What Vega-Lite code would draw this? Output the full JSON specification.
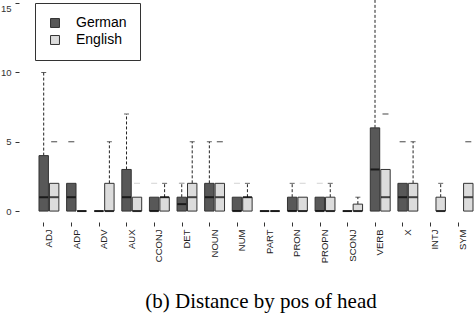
{
  "$schema": "https://vega.github.io/schema/vega-lite/v6.json",
  "width": 436,
  "height": 218,
  "autosize": "none",
  "padding": {"left": 38, "top": 0, "right": 0, "bottom": 95},
  "background": "white",
  "config": {
    "view": {"stroke": null},
    "font": "Liberation Sans",
    "axisY": {"domain": false, "grid": false, "tickSize": 4, "offset": 19, "labelPadding": 4, "labelFontSize": 9.5, "labelColor": "#333", "tickColor": "#333", "labelFont": "Liberation Sans"},
    "axisX": {"domain": false, "grid": false, "tickSize": 4, "offset": 4, "labelPadding": 3, "labelFontSize": 9.5, "labelColor": "#222", "tickColor": "#333", "labelAngle": -90, "labelFont": "Liberation Sans", "bandPosition": 0.25}
  },
  "title": {"text": "(b) Distance by pos of head", "orient": "bottom", "anchor": "middle", "font": "Liberation Serif", "fontSize": 21, "fontWeight": "normal", "color": "black", "offset": 28, "dx": 5},
  "datasets": {
    "boxes": [
      {"pos": "ADJ", "lang": "German", "q1": 0, "med": 1, "q3": 4, "hi": 10},
      {"pos": "ADJ", "lang": "English", "q1": 0, "med": 1, "q3": 2, "hi": 2},
      {"pos": "ADP", "lang": "German", "q1": 0, "med": 1, "q3": 2, "hi": 2},
      {"pos": "ADP", "lang": "English", "q1": 0, "med": 0, "q3": 0, "hi": 0},
      {"pos": "ADV", "lang": "German", "q1": 0, "med": 0, "q3": 0, "hi": 0},
      {"pos": "ADV", "lang": "English", "q1": 0, "med": 0, "q3": 2, "hi": 5},
      {"pos": "AUX", "lang": "German", "q1": 0, "med": 1, "q3": 3, "hi": 7},
      {"pos": "AUX", "lang": "English", "q1": 0, "med": 0, "q3": 1, "hi": 1},
      {"pos": "CCONJ", "lang": "German", "q1": 0, "med": 0, "q3": 1, "hi": 1},
      {"pos": "CCONJ", "lang": "English", "q1": 0, "med": 1, "q3": 1, "hi": 2},
      {"pos": "DET", "lang": "German", "q1": 0, "med": 0.5, "q3": 1, "hi": 2},
      {"pos": "DET", "lang": "English", "q1": 0, "med": 1, "q3": 2, "hi": 5},
      {"pos": "NOUN", "lang": "German", "q1": 0, "med": 1, "q3": 2, "hi": 5},
      {"pos": "NOUN", "lang": "English", "q1": 0, "med": 1, "q3": 2, "hi": 2},
      {"pos": "NUM", "lang": "German", "q1": 0, "med": 0, "q3": 1, "hi": 1},
      {"pos": "NUM", "lang": "English", "q1": 0, "med": 1, "q3": 1, "hi": 2},
      {"pos": "PART", "lang": "German", "q1": 0, "med": 0, "q3": 0, "hi": 0},
      {"pos": "PART", "lang": "English", "q1": 0, "med": 0, "q3": 0, "hi": 0},
      {"pos": "PRON", "lang": "German", "q1": 0, "med": 0, "q3": 1, "hi": 2},
      {"pos": "PRON", "lang": "English", "q1": 0, "med": 0, "q3": 1, "hi": 1},
      {"pos": "PROPN", "lang": "German", "q1": 0, "med": 0, "q3": 1, "hi": 1},
      {"pos": "PROPN", "lang": "English", "q1": 0, "med": 0, "q3": 1, "hi": 2},
      {"pos": "SCONJ", "lang": "German", "q1": 0, "med": 0, "q3": 0, "hi": 0},
      {"pos": "SCONJ", "lang": "English", "q1": 0, "med": 0, "q3": 0.5, "hi": 1},
      {"pos": "VERB", "lang": "German", "q1": 0, "med": 3, "q3": 6, "hi": 17},
      {"pos": "VERB", "lang": "English", "q1": 0, "med": 1, "q3": 3, "hi": 3},
      {"pos": "X", "lang": "German", "q1": 0, "med": 1, "q3": 2, "hi": 2},
      {"pos": "X", "lang": "English", "q1": 0, "med": 1, "q3": 2, "hi": 5},
      {"pos": "INTJ", "lang": "English", "q1": 0, "med": 0, "q3": 1, "hi": 2},
      {"pos": "SYM", "lang": "English", "q1": 0, "med": 1, "q3": 2, "hi": 2}
    ],
    "points": [
      {"pos": "ADJ", "lang": "English", "v": 5, "kind": "out"},
      {"pos": "ADP", "lang": "German", "v": 5, "kind": "out"},
      {"pos": "AUX", "lang": "English", "v": 2, "kind": "faint"},
      {"pos": "CCONJ", "lang": "German", "v": 2, "kind": "faint"},
      {"pos": "DET", "lang": "German", "v": 2, "kind": "faint"},
      {"pos": "NOUN", "lang": "English", "v": 5, "kind": "out"},
      {"pos": "NUM", "lang": "German", "v": 2, "kind": "faint"},
      {"pos": "PRON", "lang": "English", "v": 2, "kind": "faint"},
      {"pos": "PROPN", "lang": "German", "v": 2, "kind": "faint"},
      {"pos": "VERB", "lang": "English", "v": 7, "kind": "out"},
      {"pos": "X", "lang": "German", "v": 5, "kind": "out"},
      {"pos": "SYM", "lang": "English", "v": 5, "kind": "out"}
    ]
  },
  "encoding": {
    "x": {"field": "pos", "type": "nominal", "title": null,
      "sort": ["ADJ","ADP","ADV","AUX","CCONJ","DET","NOUN","NUM","PART","PRON","PROPN","SCONJ","VERB","X","INTJ","SYM"],
      "scale": {"paddingInner": 0.28, "paddingOuter": 0.036}},
    "xOffset": {"field": "lang", "type": "nominal", "sort": ["German","English"], "scale": {"domain": ["German","English"], "paddingInner": 0.1, "paddingOuter": 0}}
  },
  "layer": [
    {
      "data": {"name": "boxes"},
      "transform": [{"filter": "datum.hi > datum.q3"}],
      "mark": {"type": "rule", "strokeDash": [3, 2], "color": "#222", "strokeWidth": 1, "clip": true},
      "encoding": {
        "y": {"field": "q3", "type": "quantitative", "title": null, "scale": {"domain": [-0.5, 15.22], "nice": false, "zero": false}, "axis": {"values": [0, 5, 10, 15], "labelBaseline": {"condition": {"test": "datum.value == 15", "value": "top"}, "value": "middle"}}},
        "y2": {"field": "hi"}
      }
    },
    {
      "data": {"name": "boxes"},
      "transform": [{"filter": "datum.hi > datum.q3 && datum.hi < 15"}],
      "mark": {"type": "tick", "color": "#222", "thickness": 1, "size": 5},
      "encoding": {
        "y": {"field": "hi", "type": "quantitative", "title": null, "scale": {"domain": [-0.5, 15.22], "nice": false, "zero": false}, "axis": {"values": [0, 5, 10, 15], "labelBaseline": {"condition": {"test": "datum.value == 15", "value": "top"}, "value": "middle"}}}
      }
    },
    {
      "data": {"name": "boxes"},
      "mark": {"type": "bar", "stroke": "#333", "strokeWidth": 1},
      "encoding": {
        "y": {"field": "q1", "type": "quantitative", "title": null, "scale": {"domain": [-0.5, 15.22], "nice": false, "zero": false}, "axis": {"values": [0, 5, 10, 15], "labelBaseline": {"condition": {"test": "datum.value == 15", "value": "top"}, "value": "middle"}}},
        "y2": {"field": "q3"},
        "color": {"field": "lang", "type": "nominal", "title": null,
          "scale": {"domain": ["German","English"], "range": ["#585858", "#dcdcdc"]},
          "legend": {"orient": "none", "legendX": -3, "legendY": 3, "strokeColor": "#333", "fillColor": "white", "padding": 13, "labelFontSize": 14, "labelFont": "Liberation Sans", "labelColor": "black", "symbolType": "square", "symbolSize": 80, "symbolStrokeColor": "#333", "symbolStrokeWidth": 1, "rowPadding": 3, "labelOffset": 14, "cornerRadius": 0}
        }
      }
    },
    {
      "data": {"name": "boxes"},
      "mark": {"type": "tick", "color": "black", "thickness": 2, "size": 9},
      "encoding": {
        "y": {"field": "med", "type": "quantitative", "title": null, "scale": {"domain": [-0.5, 15.22], "nice": false, "zero": false}, "axis": {"values": [0, 5, 10, 15], "labelBaseline": {"condition": {"test": "datum.value == 15", "value": "top"}, "value": "middle"}}}
      }
    },
    {
      "data": {"name": "points"},
      "transform": [{"filter": "datum.kind == 'out'"}],
      "mark": {"type": "tick", "color": "#222", "thickness": 1.2, "size": 6},
      "encoding": {
        "y": {"field": "v", "type": "quantitative", "title": null, "scale": {"domain": [-0.5, 15.22], "nice": false, "zero": false}, "axis": {"values": [0, 5, 10, 15], "labelBaseline": {"condition": {"test": "datum.value == 15", "value": "top"}, "value": "middle"}}}
      }
    },
    {
      "data": {"name": "points"},
      "transform": [{"filter": "datum.kind == 'faint'"}],
      "mark": {"type": "tick", "color": "#cccccc", "thickness": 1.2, "size": 6},
      "encoding": {
        "y": {"field": "v", "type": "quantitative", "title": null, "scale": {"domain": [-0.5, 15.22], "nice": false, "zero": false}, "axis": {"values": [0, 5, 10, 15], "labelBaseline": {"condition": {"test": "datum.value == 15", "value": "top"}, "value": "middle"}}}
      }
    }
  ]
}
